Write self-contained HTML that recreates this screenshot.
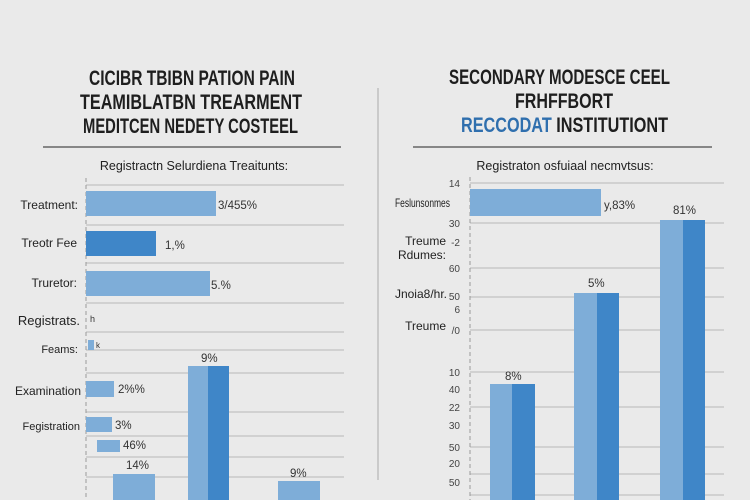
<!DOCTYPE html>
<html><head><meta charset="utf-8"><style>
html,body{margin:0;padding:0;background:#eaeaea;}
svg{display:block;font-family:"Liberation Sans",sans-serif;}
.t{font-size:21px;font-weight:bold;fill:#1e1e1e;}
.s{font-size:12.5px;fill:#222;text-anchor:middle;}
.l{font-size:12px;fill:#222;text-anchor:end;}
.v{font-size:11.5px;fill:#333;}
.k{font-size:10px;fill:#444;text-anchor:end;}
.g{stroke:#b8b8b8;stroke-width:1;}
</style></head><body>
<svg width="750" height="500" viewBox="0 0 750 500">
<rect width="750" height="500" fill="#eaeaea"/>
<!-- Left panel -->
<g class="t">
<text x="89" y="85" textLength="206" lengthAdjust="spacingAndGlyphs">CICIBR TBIBN PATION PAIN</text>
<text x="80" y="109" textLength="222" lengthAdjust="spacingAndGlyphs">TEAMIBLATBN TREARMENT</text>
<text x="83" y="133" textLength="215" lengthAdjust="spacingAndGlyphs">MEDITCEN NEDETY COSTEEL</text>
</g>
<line x1="43" y1="147" x2="341" y2="147" stroke="#666" stroke-width="1.5"/>
<text class="s" x="194" y="170">Registractn  Selurdiena Treaitunts:</text>
<g class="g">
<line x1="86" y1="185" x2="344" y2="185"/><line x1="86" y1="225" x2="344" y2="225"/>
<line x1="86" y1="263" x2="344" y2="263"/><line x1="86" y1="303" x2="344" y2="303"/>
<line x1="86" y1="332" x2="344" y2="332"/><line x1="86" y1="350" x2="344" y2="350"/>
<line x1="86" y1="373" x2="344" y2="373"/><line x1="86" y1="412" x2="344" y2="412"/>
<line x1="86" y1="436" x2="344" y2="436"/><line x1="86" y1="457" x2="344" y2="457"/>
<line x1="86" y1="477" x2="344" y2="477"/>
</g>
<line x1="86" y1="178" x2="86" y2="500" stroke="#999" stroke-dasharray="4,3"/>
<rect x="86" y="191" width="130" height="25" fill="#7eadd8"/>
<rect x="86" y="231" width="70" height="25" fill="#3f86c8"/>
<rect x="86" y="271" width="124" height="25" fill="#7eadd8"/>
<rect x="88" y="340" width="6" height="10" fill="#7eadd8"/>
<rect x="86" y="381" width="28" height="16" fill="#7eadd8"/>
<rect x="86" y="417" width="26" height="15" fill="#7eadd8"/>
<rect x="97" y="440" width="23" height="12" fill="#7eadd8"/>
<rect x="113" y="474" width="42" height="26" fill="#7eadd8"/>
<rect x="188" y="366" width="20" height="134" fill="#7eadd8"/>
<rect x="208" y="366" width="21" height="134" fill="#3f86c8"/>
<rect x="278" y="481" width="42" height="19" fill="#7eadd8"/>
<g class="v">
<text x="218" y="209">3/455%</text><text x="165" y="249">1,%</text>
<text x="211" y="289">5.%</text><text x="118" y="393">2%%</text>
<text x="115" y="429">3%</text><text x="123" y="449">46%</text>
<text x="126" y="469">14%</text><text x="201" y="362">9%</text>
<text x="290" y="477">9%</text><text x="90" y="322" font-size="9">h</text><text x="96" y="348" font-size="8">k</text>
</g>
<g class="l">
<text x="78" y="209">Treatment:</text><text x="77" y="247">Treotr Fee</text>
<text x="77" y="287">Truretor:</text><text x="80" y="325" font-size="13">Registrats.</text>
<text x="78" y="353" font-size="11">Feams:</text><text x="81" y="395">Examination</text>
<text x="80" y="430" font-size="11">Fegistration</text>
</g>
<!-- separator -->
<line x1="378" y1="88" x2="378" y2="480" stroke="#aaa" stroke-width="1"/>
<!-- Right panel -->
<g class="t">
<text x="449" y="84" textLength="221" lengthAdjust="spacingAndGlyphs">SECONDARY MODESCE CEEL</text>
<text x="515" y="108" textLength="98" lengthAdjust="spacingAndGlyphs">FRHFFBORT</text>
<text x="461" y="132" textLength="207" lengthAdjust="spacingAndGlyphs"><tspan fill="#2f6fae">RECCODAT</tspan> INSTITUTIONT</text>
</g>
<line x1="413" y1="147" x2="712" y2="147" stroke="#666" stroke-width="1.5"/>
<text class="s" x="565" y="170">Registraton osfuiaal necmvtsus:</text>
<g class="g">
<line x1="470" y1="183" x2="724" y2="183"/><line x1="470" y1="223" x2="724" y2="223"/>
<line x1="470" y1="268" x2="724" y2="268"/><line x1="470" y1="297" x2="724" y2="297"/>
<line x1="470" y1="330" x2="724" y2="330"/><line x1="470" y1="372" x2="724" y2="372"/>
<line x1="470" y1="407" x2="724" y2="407"/><line x1="470" y1="447" x2="724" y2="447"/>
<line x1="470" y1="474" x2="724" y2="474"/><line x1="470" y1="495" x2="724" y2="495"/>
</g>
<line x1="470" y1="177" x2="470" y2="500" stroke="#999" stroke-dasharray="4,3"/>
<rect x="470" y="189" width="131" height="27" fill="#7eadd8"/>
<rect x="490" y="384" width="22" height="116" fill="#7eadd8"/>
<rect x="512" y="384" width="23" height="116" fill="#3f86c8"/>
<rect x="574" y="293" width="23" height="207" fill="#7eadd8"/>
<rect x="597" y="293" width="22" height="207" fill="#3f86c8"/>
<rect x="660" y="220" width="23" height="280" fill="#7eadd8"/>
<rect x="683" y="220" width="22" height="280" fill="#3f86c8"/>
<g class="v">
<text x="604" y="209">y,83%</text><text x="505" y="380">8%</text>
<text x="588" y="287">5%</text><text x="673" y="214">81%</text>
</g>
<g class="k">
<text x="460" y="187">14</text><text x="460" y="227">30</text><text x="460" y="246">-2</text>
<text x="460" y="272">60</text><text x="460" y="300">50</text><text x="460" y="313">6</text>
<text x="460" y="334">/0</text><text x="460" y="376">10</text><text x="460" y="393">40</text>
<text x="460" y="411">22</text><text x="460" y="429">30</text><text x="460" y="451">50</text>
<text x="460" y="467">20</text><text x="460" y="486">50</text>
</g>
<g class="l" font-size="11">
<text x="450" y="207" textLength="55" lengthAdjust="spacingAndGlyphs">Feslunsonmes</text><text x="446" y="245">Treume</text>
<text x="446" y="259">Rdumes:</text><text x="447" y="298">Jnoia8/hr.</text>
<text x="446" y="330">Treume</text>
</g>
</svg>
</body></html>
